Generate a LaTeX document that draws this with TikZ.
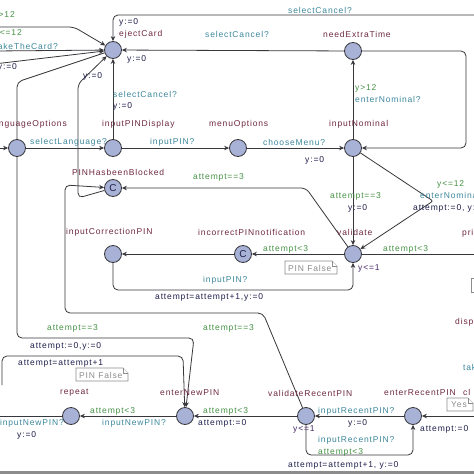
\documentclass[tikz,border=0pt]{standalone}
\usepackage{fontspec}
\setmainfont{Liberation Sans}[LetterSpace=10]
\usetikzlibrary{arrows.meta,backgrounds}
\definecolor{edgec}{RGB}{55,55,60}
\definecolor{locfill}{RGB}{168,178,214}
\definecolor{namec}{RGB}{110,40,65}
\definecolor{guardc}{RGB}{70,145,70}
\definecolor{syncc}{RGB}{60,135,155}
\definecolor{updc}{RGB}{30,30,75}
\definecolor{invc}{RGB}{70,40,100}
\definecolor{notec}{RGB}{140,140,140}
\begin{document}
\begin{tikzpicture}[x=1pt,y=-1pt,
  loc/.style={circle,draw=edgec,fill=locfill,minimum size=17pt,inner sep=0pt,line width=0.8pt},
  comm/.style={loc,font=\fontsize{10}{10}\selectfont,text=updc},
  lbl/.style={anchor=west,inner sep=0pt,font=\fontsize{8.5}{10}\selectfont},
  lname/.style={lbl,text=namec},
  guard/.style={lbl,text=guardc},
  sync/.style={lbl,text=syncc},
  upd/.style={lbl,text=updc},
  inv/.style={lbl,text=invc},
  edge/.style={draw=edgec,line width=0.8pt,rounded corners=5pt,-{Stealth[length=5pt,width=4.5pt]}},
  plain/.style={draw=edgec,line width=0.8pt,rounded corners=5pt},
  notebox/.style={draw=notec,fill=white,line width=0.6pt},
  notetext/.style={lbl,text=notec}]
\useasboundingbox (0,0) rectangle (474,474);
\clip (0,0) rectangle (474,474);
% locations
\node[loc] (ej) at (113,50) {};
\node[loc] (net) at (353,51) {};
\node[loc] (lang) at (17,148) {};
\node[loc] (ipd) at (113,148) {};
\node[loc] (menu) at (238,148) {};
\node[loc] (inom) at (353,148) {};
\node[comm] (blk) at (113,188) {C};
\node[loc] (icp) at (113,254) {};
\node[comm] (ipn) at (243,254) {C};
\node[loc] (val) at (353,254) {};
\node[loc] (rep) at (71,416) {};
\node[loc] (enp) at (185,416) {};
\node[loc] (vrp) at (306,416) {};
\node[loc] (erp) at (413,416) {};
% free ends
\coordinate (topR) at (480,15);
\coordinate (lA) at (-6,27);
\coordinate (lB) at (-6,51);
\coordinate (lC) at (-6,64);
\coordinate (lD) at (-6,148);
\coordinate (lE) at (-6,416);
\coordinate (lF) at (2,385);
\coordinate (rA) at (480,254);
\coordinate (rB) at (480,416);
% location names
\node[lname,anchor=west] (n1) at (119,34) {ejectCard};
\node[lname] (n2) at (323,34) {needExtraTime};
\node[lname,anchor=east] (n3) at (67,124) {languageOptions};
\node[lname] (n4) at (102,124) {inputPINDisplay};
\node[lname] (n5) at (209,124) {menuOptions};
\node[lname] (n6) at (329,124) {inputNominal};
\node[lname] (n7) at (72,172) {PINHasbeenBlocked};
\node[lname] (n8) at (66,232) {inputCorrectionPIN};
\node[lname] (n9) at (198,232) {incorrectPINnotification};
\node[lname] (n10) at (337,232) {validate};
\node[lname] (n11) at (60,393) {repeat};
\node[lname] (n12) at (160,393) {enterNewPIN};
\node[lname] (n13) at (268,393) {validateRecentPIN};
\node[lname] (n14) at (384,393) {enterRecentPIN};
\node[lname] (n15) at (462,233) {pri};
\node[lname] (n16) at (455,322) {disp};
\node[lname] (n17) at (463,392) {cl};
% invariants
\node[inv] (i1) at (358,268) {y<=1};
\node[inv] (i2) at (293,429) {y<=1};
% notes
\draw[notebox] (285,261) -- (332,261) -- (337,266) -- (337,274) -- (285,274) -- cycle;
\draw[notebox] (332,261) -- (332,266) -- (337,266);
\node[notetext] (t1) at (288,268) {PIN False};
\draw[notebox] (76,368) -- (123,368) -- (128,373) -- (128,381) -- (76,381) -- cycle;
\draw[notebox] (123,368) -- (123,373) -- (128,373);
\node[notetext] (t2) at (79,375) {PIN False};
\draw[notebox] (447,398) -- (468,398) -- (473,403) -- (473,411) -- (447,411) -- cycle;
\draw[notebox] (468,398) -- (468,403) -- (473,403);
\node[notetext] (t3) at (451,405) {Yes};
\draw[notebox] (471,278) rectangle (480,292);
% edge labels
\node[sync] (s1) at (288,10) {selectCancel?};
\node[upd] (u1) at (119,22) {y:=0};
\node[sync] (s2) at (205,34) {selectCancel?};
\node[upd] (u2) at (127,59) {y:=0};
\node[guard] (g1) at (355,88) {y>12};
\node[sync] (s3) at (355,99) {enterNominal?};
\node[guard,anchor=east] (g2) at (15,15) {y>12};
\node[guard,anchor=east] (g3) at (22,33) {y<=12};
\node[sync,anchor=east] (s4) at (58,46) {takeTheCard?};
\node[upd,anchor=east] (u3) at (17,67) {y:=0};
\node[upd] (u4) at (83,76) {y:=0};
\node[sync] (s5) at (113,94) {selectCancel?};
\node[upd] (u5) at (113,106) {y:=0};
\node[sync] (s6) at (30,142) {selectLanguage?};
\node[sync] (s7) at (150,142) {inputPIN?};
\node[sync] (s8) at (263,142) {chooseMenu?};
\node[upd] (u6) at (305,160) {y:=0};
\node[guard] (g4) at (193,177) {attempt==3};
\node[guard] (g5) at (330,196) {attempt==3};
\node[upd] (u7) at (348,208) {y:=0};
\node[guard] (g6) at (437,184) {y<=12};
\node[sync] (s9) at (420,195) {enterNominal?};
\node[upd] (u8) at (413,208) {attempt:=0, y:=0};
\node[guard] (g7) at (263,249) {attempt<3};
\node[guard] (g8) at (383,249) {attempt<3};
\node[sync] (s10) at (203,280) {inputPIN?};
\node[upd] (u9) at (155,297) {attempt=attempt+1,y:=0};
\node[guard] (g9) at (203,328) {attempt==3};
\node[guard] (g10) at (47,328) {attempt==3};
\node[upd] (u10) at (30,346) {attempt:=0,y:=0};
\node[upd] (u11) at (18,363) {attempt=attempt+1};
\node[sync] (s11) at (463,367) {tak};
\node[guard] (g11) at (90,411) {attempt<3};
\node[sync] (s12) at (102,423) {inputNewPIN?};
\node[sync,anchor=east] (s13) at (64,423) {inputNewPIN?};
\node[upd] (u12) at (17,435) {y:=0};
\node[guard] (g12) at (203,411) {attempt<3};
\node[upd] (u13) at (198,423) {attempt:=0};
\node[sync] (s14) at (318,411) {inputRecentPIN?};
\node[upd] (u14) at (348,423) {y:=0};
\node[upd] (u15) at (420,429) {attempt:=0};
\node[sync] (s15) at (318,440) {inputRecentPIN?};
\node[guard] (g13) at (318,452) {attempt<3};
\node[upd] (u16) at (288,465) {attempt=attempt+1, y:=0};
% edges
\begin{scope}[on background layer]
\fill[white] (0,0) rectangle (474,474);
\draw[edge] (topR) -| (ej);
\draw[edge] (net) -- (ej);
\draw[edge] (net) -- (466,51) |- (inom);
\draw[edge] (inom) -- (net);
\draw[edge] (lA) -- (74,27) -- (ej);
\draw[edge] (lB) -- (ej);
\draw[edge] (lC) -- (ej);
\draw[edge] (ej) -- (17,82) -- (17,338) -- (194,338) -- (enp);
\draw[edge] (blk) -- (78,198) -- (78,84) -- (ej);
\draw[edge] (ipd) -- (ej);
\draw[edge] (lD) -- (lang);
\draw[edge] (lang) -- (ipd);
\draw[edge] (ipd) -- (menu);
\draw[edge] (menu) -- (inom);
\draw[edge] (inom) -- (val);
\draw[edge,rounded corners=2pt] (inom) -- (433,201) -- (val);
\draw[edge] (val) -- (306,188) -- (blk);
\draw[edge] (val) -- (ipn);
\draw[edge] (ipn) -- (icp);
\draw[edge] (icp) -- (113,290) -- (353,290) -- (val);
\draw[plain] (val) -- (rA);
\draw[edge] (vrp) -- (263,313) -- (65,313) -- (65,185) -- (blk);
\draw[edge] (lF) -- (2,356) -- (183,356) -- (enp);
\draw[edge] (enp) -- (rep);
\draw[edge] (rep) -- (lE);
\draw[edge] (vrp) -- (enp);
\draw[edge] (erp) -- (vrp);
\draw[edge] (vrp) -- (306,455) -- (413,455) -- (erp);
\draw[edge] (rB) -- (erp);
\fill[black!45] (0,471) rectangle (474,474);
\end{scope}
\end{tikzpicture}
\end{document}
